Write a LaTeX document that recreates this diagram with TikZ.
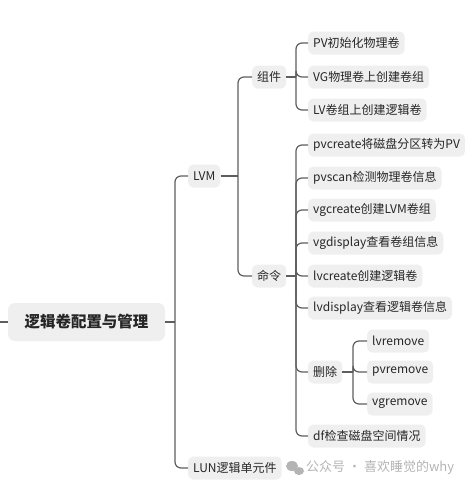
\documentclass[tikz,border=0pt]{standalone}
\usepackage{fontspec}
\newfontfamily\cjk{Noto Sans CJK SC}
\usetikzlibrary{calc}
\definecolor{boxfill}{HTML}{EFEFEF}
\definecolor{linec}{HTML}{5E5E5E}
\definecolor{txt}{HTML}{262626}
\definecolor{wm}{HTML}{B4B4B4}
\tikzset{
  leaf/.style={fill=boxfill,rounded corners=5pt,text=txt,font=\cjk\fontsize{12}{14}\selectfont,
    inner xsep=5pt,inner ysep=0pt,minimum height=23pt,anchor=west},
  rootbox/.style={fill=boxfill,rounded corners=7pt,text=txt,font=\cjk\bfseries\fontsize{15.5}{18}\selectfont,
    minimum width=157pt,minimum height=38pt,inner sep=0pt},
  conn/.style={draw=linec,line width=1.2pt,rounded corners=6pt},
}
\begin{document}
\begin{tikzpicture}[x=1pt,y=-1pt]
\useasboundingbox (0,0) rectangle (474,488);
% nodes
\node[rootbox] (root) at (86.5,322) {逻辑卷配置与管理};
\node[leaf] (lvm) at (188,176) {LVM};
\node[leaf] (lun) at (188,468) {LUN逻辑单元件};
\node[leaf] (zj) at (252,77) {组件};
\node[leaf] (ml) at (252,276) {命令};
\node[leaf] (pv) at (308,43) {PV初始化物理卷};
\node[leaf] (vg) at (308,77) {VG物理卷上创建卷组};
\node[leaf] (lv) at (308,110) {LV卷组上创建逻辑卷};
\node[leaf] (c1) at (308,145) {pvcreate将磁盘分区转为PV};
\node[leaf] (c2) at (308,178) {pvscan检测物理卷信息};
\node[leaf] (c3) at (308,210) {vgcreate创建LVM卷组};
\node[leaf] (c4) at (308,243) {vgdisplay查看卷组信息};
\node[leaf] (c5) at (308,276) {lvcreate创建逻辑卷};
\node[leaf] (c6) at (308,308) {lvdisplay查看逻辑卷信息};
\node[leaf] (del) at (308,372) {删除};
\node[leaf] (r1) at (367,341) {lvremove};
\node[leaf] (r2) at (367,372) {pvremove};
\node[leaf] (r3) at (367,404) {vgremove};
\node[leaf] (df) at (308,436) {df检查磁盘空间情况};
% watermark
\node[anchor=west,text=wm,font=\cjk\fontsize{13}{15}\selectfont,inner sep=0pt] (wmark) at (306,468) {公众号 · 喜欢睡觉的why};
\fill[wm] (292,466) ellipse (6pt and 5pt);
\fill[wm] (299,471) ellipse (5pt and 4pt);
% vertical positions
\coordinate (v0) at (175,0);
\coordinate (v1) at (238,0);
\coordinate (v2) at (296,0);
\coordinate (v3) at (353,0);
\coordinate (lstub) at (0,322);
% connectors
\draw[conn] (lstub) -- (root.west);
\draw[conn] (root.east) -- (root.east -| v0);
\foreach \c in {lvm,lun} \draw[conn] (root.east -| v0) |- (\c.west);
\draw[conn] (lvm.east) -- (lvm.east -| v1);
\foreach \c in {zj,ml} \draw[conn] (lvm.east -| v1) |- (\c.west);
\draw[conn] (zj.east) -- (zj.east -| v2);
\foreach \c in {pv,vg,lv} \draw[conn] (zj.east -| v2) |- (\c.west);
\draw[conn] (ml.east) -- (ml.east -| v2);
\foreach \c in {c1,c2,c3,c4,c5,c6,del,df} \draw[conn] (ml.east -| v2) |- (\c.west);
\draw[conn] (del.east) -- (del.east -| v3);
\foreach \c in {r1,r2,r3} \draw[conn] (del.east -| v3) |- (\c.west);
\end{tikzpicture}
\end{document}
